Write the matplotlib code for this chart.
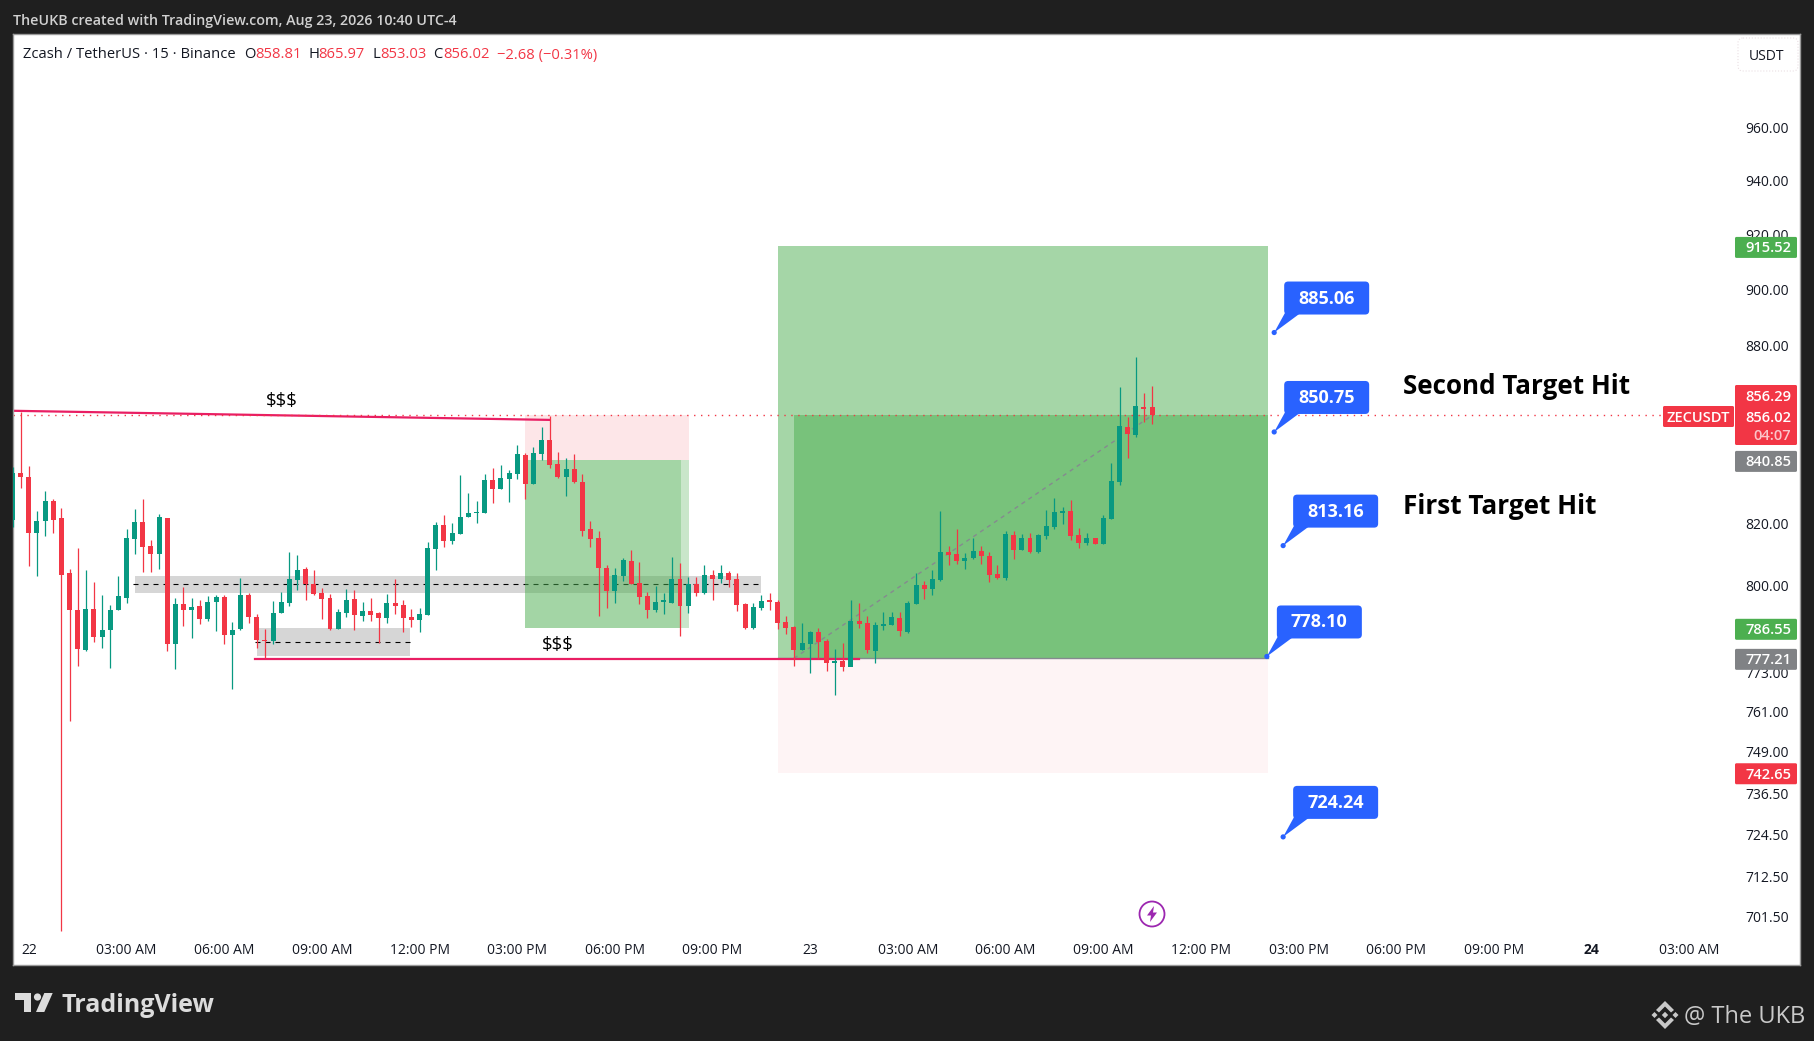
import matplotlib
matplotlib.use("Agg")
import matplotlib.pyplot as plt
from matplotlib.patches import Rectangle, FancyBboxPatch, Polygon, Circle
from matplotlib.ticker import NullLocator
from matplotlib.transforms import Affine2D

plt.rcParams['font.family'] = ['Open Sans', 'DejaVu Sans']

# 15 min candles
opens = [821.2, 836.6, 835.3, 817.0, 820.7, 827.4, 821.8, 804.0, 792.4, 779.9,
         792.7, 783.7, 785.9, 792.2, 796.1, 815.1, 820.6, 812.7, 810.2, 821.8,
         781.8, 794.2, 792.2, 793.6, 789.6, 794.7, 796.5, 784.4, 786.2, 797.1,
         790.2, 783.0, 782.5, 791.5, 794.6, 801.9, 805.3, 800.6, 797.7, 796.1,
         786.4, 791.5, 795.8, 790.5, 792.1, 791.5, 789.8, 794.6, 793.9, 790.2,
         789.2, 790.8, 811.8, 819.5, 814.4, 816.6, 822.2, 823.4, 823.4, 834.4,
         831.4, 834.7, 836.4, 842.6, 833.1, 843.0, 847.7, 839.7, 835.4, 838.0,
         833.7, 818.2, 815.3, 805.6, 798.4, 803.1, 807.9, 800.9, 796.8, 792.4,
         794.9, 794.6, 802.2, 793.6, 800.6, 797.7, 803.4, 802.2, 804.1, 802.2,
         794.2, 786.7, 793.0, 795.2, 794.9, 788.6, 787.0, 779.8, 781.6, 785.5,
         782.7, 775.8, 776.4, 774.6, 788.9, 788.3, 779.5, 787.4, 787.7, 789.8,
         785.5, 794.2, 800.3, 799.0, 801.9, 810.8, 810.1, 807.9, 808.8, 811.1,
         809.5, 803.7, 802.5, 816.3, 811.4, 815.3, 810.8, 816.0, 818.9, 823.4,
         824.1, 816.3, 813.7, 815.3, 813.4, 821.5, 833.7, 852.1, 849.4, 858.9,
         858.81]
highs = [838.8, 857.3, 839.0, 824.1, 830.7, 828.0, 825.0, 805.3, 812.1, 805.0,
         801.3, 797.1, 794.0, 803.1, 818.2, 824.7, 828.0, 814.7, 823.1, 821.8,
         796.1, 799.6, 796.1, 795.5, 796.8, 797.1, 797.1, 788.6, 802.5, 797.7,
         791.1, 786.4, 795.2, 798.1, 810.8, 809.8, 806.0, 805.0, 799.3, 797.4,
         792.7, 799.0, 798.7, 794.9, 796.1, 791.8, 797.4, 802.2, 795.5, 792.7,
         793.0, 814.0, 820.6, 822.8, 820.2, 836.0, 830.0, 827.4, 836.4, 838.4,
         839.3, 837.7, 846.0, 843.3, 845.3, 852.1, 855.9, 843.6, 841.7, 843.0,
         836.4, 820.9, 817.6, 806.6, 805.6, 808.8, 811.4, 807.6, 798.1, 800.0,
         797.7, 809.2, 807.2, 802.8, 802.8, 806.6, 805.0, 806.6, 804.7, 804.0,
         794.6, 794.6, 797.1, 797.7, 795.5, 790.5, 787.4, 788.3, 785.6, 786.7,
         783.3, 780.1, 782.0, 795.5, 794.6, 790.5, 788.6, 791.8, 791.8, 791.8,
         795.2, 804.0, 801.6, 805.0, 824.1, 812.7, 818.2, 810.4, 815.3, 812.7,
         810.8, 806.6, 817.6, 817.6, 816.6, 817.0, 816.6, 824.4, 828.4, 825.4,
         827.7, 818.6, 817.0, 815.3, 822.8, 840.0, 865.7, 855.5, 876.3, 863.7,
         865.97]
lows = [819.0, 831.8, 806.3, 803.2, 815.8, 817.0, 697.5, 758.2, 775.0, 779.6,
        782.2, 780.5, 774.1, 792.2, 794.4, 810.2, 804.5, 804.5, 805.4, 779.6,
        773.8, 787.4, 783.4, 787.8, 788.7, 785.6, 781.8, 767.7, 785.9, 788.1,
        780.5, 777.4, 781.8, 791.2, 793.6, 798.7, 795.5, 797.1, 789.5, 785.9,
        786.4, 790.0, 785.9, 788.7, 788.7, 782.0, 788.1, 791.1, 785.3, 786.9,
        785.3, 790.8, 805.0, 812.5, 813.4, 816.6, 822.2, 820.2, 823.4, 826.7,
        831.4, 827.0, 834.7, 828.0, 833.1, 841.0, 838.4, 835.0, 829.0, 833.4,
        816.0, 812.4, 790.5, 793.0, 794.6, 801.6, 800.6, 794.2, 789.8, 791.8,
        791.1, 794.6, 784.0, 791.5, 796.8, 797.4, 795.5, 801.0, 799.6, 792.1,
        786.4, 786.4, 792.4, 792.4, 786.4, 784.9, 774.8, 779.8, 772.8, 777.0,
        773.4, 766.0, 773.4, 775.2, 786.7, 778.9, 775.8, 786.1, 787.7, 784.0,
        785.1, 794.2, 795.8, 797.1, 801.6, 806.6, 806.9, 805.3, 808.5, 806.9,
        801.3, 802.2, 801.9, 808.5, 811.4, 810.4, 810.4, 815.0, 818.2, 819.9,
        814.7, 812.1, 813.1, 813.4, 813.4, 821.5, 832.7, 841.7, 848.8, 853.8,
        853.03]
closes = [836.6, 835.2, 817.0, 820.9, 827.4, 821.3, 803.3, 792.2, 780.2, 792.7,
          783.7, 786.1, 792.4, 796.8, 815.3, 820.6, 812.5, 810.2, 822.2, 781.8,
          794.2, 792.2, 793.3, 789.6, 794.9, 796.5, 784.4, 786.1, 797.1, 790.0,
          782.8, 782.5, 791.5, 794.9, 802.2, 805.0, 800.4, 797.4, 795.8, 786.4,
          791.8, 795.5, 790.6, 792.1, 790.8, 789.8, 794.6, 793.6, 789.8, 789.2,
          791.1, 812.1, 819.5, 814.4, 817.0, 822.2, 823.4, 823.8, 834.4, 831.4,
          835.0, 836.7, 843.0, 833.1, 843.3, 847.7, 839.3, 835.4, 838.0, 833.7,
          817.6, 815.0, 805.6, 798.4, 803.4, 808.2, 800.6, 796.5, 792.4, 794.9,
          795.2, 802.2, 793.6, 800.6, 797.7, 803.4, 802.2, 804.1, 801.9, 794.0,
          786.7, 793.3, 795.2, 794.9, 788.3, 786.7, 779.8, 782.1, 785.5, 782.4,
          775.8, 776.4, 774.6, 788.9, 788.0, 779.8, 787.7, 788.0, 790.2, 785.8,
          794.6, 800.3, 799.0, 802.2, 810.8, 809.8, 807.9, 808.8, 811.1, 809.5,
          803.4, 802.5, 816.6, 811.4, 815.3, 810.8, 816.3, 819.2, 823.8, 824.1,
          816.0, 813.7, 815.3, 813.4, 821.8, 834.1, 852.5, 849.7, 859.3, 858.2,
          856.02]

y_ticks = [960, 940, 920, 900, 880, 820, 800, 773, 761, 749, 736.5, 724.5, 712.5, 701.5]
x_ticks = [2, 14, 26, 38, 50, 62, 74, 86, 98, 110, 122, 134, 146, 158, 170, 182, 194, 206]
x_labels = ['22', '03:00 AM', '06:00 AM', '09:00 AM', '12:00 PM', '03:00 PM', '06:00 PM', '09:00 PM',
            '23', '03:00 AM', '06:00 AM', '09:00 AM', '12:00 PM', '03:00 PM', '06:00 PM', '09:00 PM',
            '24', '03:00 AM']

last_price = 856.02
long_top, long_entry, long_stop = 915.52, 777.21, 742.65
short_top, tp_top, tp_bottom = 856.02, 840.85, 786.55
zone1 = (803.1, 797.7)
zone2 = (786.7, 777.9)
callout_prices = [885.06, 850.75, 813.16, 778.10, 724.24]
callout_bars = [155, 155, 156.1, 154.1, 156.1]

GREEN = '#089981'
RED = '#f23645'
BG = '#1f1f1f'

fig = plt.figure(figsize=(18.14, 10.41), dpi=100, facecolor=BG)
ax = fig.add_axes([13 / 1814, 76 / 1041, 1787 / 1814, 931 / 1041])

# pixel coords from top left, for all the stuff around the chart
px = Affine2D().scale(1, -1).translate(0, 1041)

XLIM = (0.055, 219.6)
YLIM = (688.0, 996.2)

ax.set_yscale('log')
ax.set_ylim(*YLIM)
ax.set_xlim(*XLIM)
ax.yaxis.set_minor_locator(NullLocator())
ax.yaxis.tick_right()
ax.set_yticks(y_ticks)
ax.set_yticklabels(['%.2f' % t for t in y_ticks])
ax.set_xticks(x_ticks)
ax.set_xticklabels(x_labels)
ax.tick_params(axis='y', length=0, pad=-39.6, labelsize=10, labelcolor='#131722')
ax.tick_params(axis='x', length=0, pad=-16, labelsize=10, labelcolor='#131722')
ax.get_xticklabels()[16].set_fontweight('bold')
for s in ax.spines.values():
    s.set_color('#9a9a9a')
    s.set_linewidth(1)

# position tools
ax.add_patch(Rectangle((94, long_entry), 60.2, long_top - long_entry, fc='#4caf50', alpha=0.5, lw=0, zorder=1.2))
ax.add_patch(Rectangle((96, long_entry), 58.2, last_price - long_entry, fc='#4caf50', alpha=0.5, lw=0, zorder=1.3))
ax.add_patch(Rectangle((94, long_stop), 60.2, long_entry - long_stop, fc=RED, alpha=0.05, lw=0, zorder=1.2))
ax.plot([94, 154.2], [long_entry, long_entry], color='#858a8f', lw=1, zorder=1.6)
ax.plot([96, 140], [long_entry, last_price], color='#858a8f', lw=1, ls=(0, (3, 3)), zorder=1.6)

# grey zones
for (top, bottom), x0, x1 in [(zone1, 15, 92), (zone2, 30, 48.8)]:
    ax.add_patch(Rectangle((x0, bottom), x1 - x0, top - bottom, fc='#d6d6d6', lw=0, zorder=1))
    mid = (top * bottom) ** 0.5
    ax.plot([x0 - 0.2, x1 + 0.1], [mid, mid], color='black', lw=0.8, ls=(0, (4.5, 4.5)), zorder=1.1)

ax.add_patch(Rectangle((63, tp_top), 20.1, short_top - tp_top, fc=RED, alpha=0.12, lw=0, zorder=1.2))
ax.add_patch(Rectangle((63, tp_bottom), 20.1, tp_top - tp_bottom, fc='#4caf50', alpha=0.3, lw=0, zorder=1.2))
ax.add_patch(Rectangle((63, tp_bottom), 19.1, tp_top - tp_bottom, fc='#4caf50', alpha=0.3, lw=0, zorder=1.3))

# liquidity lines
ax.plot([0.055, 66], [857.6, 854.5], color='#e91e63', lw=1.6, zorder=1.7)
ax.plot([29.8, 104], [777.1, 777.1], color='#e91e63', lw=1.6, zorder=1.7)
ax.text(33.1, 861.0, '$$$', ha='center', va='center', fontsize=13.5, color='black')
ax.text(67, 781.4, '$$$', ha='center', va='center', fontsize=13.5, color='black')
ax.axhline(last_price, xmax=0.923, color=RED, lw=1, ls=(0, (1, 4)), zorder=2.5)

# candles
idx = list(range(len(opens)))
colors = [GREEN if c >= o else RED for o, c in zip(opens, closes)]
ax.vlines(idx, lows, highs, colors=colors, lw=0.9, zorder=3)
bot = [min(o, c) for o, c in zip(opens, closes)]
hgt = [max(abs(c - o), 0.4) for o, c in zip(opens, closes)]
ax.bar(idx, hgt, 0.61, bot, color=colors, lw=0, zorder=3.1)
ax.set_xlim(*XLIM)
ax.set_ylim(*YLIM)


def bar_x(b):
    return ax.transData.transform((b, 800))[0]


def price_y(p):
    return 1041 - ax.transData.transform((0, p))[1] + 1


def txt(x, y, s, **kw):
    kw.setdefault('va', 'center')
    kw.setdefault('fontsize', 10)
    fig.text(x, y + 2, s, transform=px, **kw)


def box(x0, y0, x1, y1, color, rad=1.5, **kw):
    fig.add_artist(FancyBboxPatch((x0 + rad, y0 + rad), x1 - x0 - 2 * rad, y1 - y0 - 2 * rad,
                                  boxstyle='round,pad=%g,rounding_size=%g' % (rad, rad),
                                  fc=color, lw=0, transform=px, **kw))


# blue callouts
for p, b in zip(callout_prices, callout_bars):
    dx, dy = bar_x(b), price_y(p)
    fig.add_artist(Polygon([(dx, dy), (dx + 11, dy - 20), (dx + 27, dy - 20)], fc='#2962ff', lw=0, transform=px))
    fig.add_artist(Circle((dx, dy), 2.6, fc='#2962ff', lw=0, transform=px))
    box(dx + 10, dy - 51, dx + 95, dy - 18, '#2962ff', rad=4)
    txt(dx + 52.5, dy - 36, '%.2f' % p, color='white', ha='center', fontsize=13, fontweight='bold')

txt(1403, 385, 'Second Target Hit', fontsize=18.7, fontweight='bold', color='black')
txt(1403, 504, 'First Target Hit', fontsize=18.8, fontweight='bold', color='black')

# price axis labels
for p, c in [(915.52, '#4caf50'), (840.85, '#808285'), (786.55, '#4caf50'), (777.21, '#808285'), (742.65, RED)]:
    y = price_y(p)
    box(1735, y - 10.5, 1797, y + 10.5, c)
    txt(1791, y - 1, '%.2f' % p, color='white', ha='right', fontweight='semibold', fontsize=10.5)
box(1735, 385, 1797, 445, RED)
txt(1791, 395, '856.29', color='white', ha='right', fontweight='semibold', fontsize=10.5)
txt(1791, 416, '856.02', color='white', ha='right', fontweight='semibold', fontsize=10.5)
txt(1791, 434, '04:07', color='#fbc5ca', ha='right', fontweight='semibold', fontsize=10.5)
box(1663, 406, 1734, 427, RED)
txt(1698.5, 415.5, 'ZECUSDT', color='white', ha='center', fontweight='semibold', fontsize=10.5)

# USDT button
fig.add_artist(FancyBboxPatch((1742, 42), 52, 25, boxstyle='round,pad=4,rounding_size=5', fc='white',
                              ec='#eadfe3', lw=0.8, ls=':', transform=px))
txt(1767, 54, 'USDT', ha='center', color='#131722')

# header
txt(13, 19, 'TheUKB created with TradingView.com, Aug 23, 2026 10:40 UTC-4', color='#d1d1d1', fontweight='semibold',
    fontsize=10.3)
txt(23, 53, 'Zcash / TetherUS · 15 · Binance', color='#131722', fontsize=10.6)
for x, s, c in [(244, 'O', '#131722'), (255, '858.81', RED), (309, 'H', '#131722'), (318, '865.97', RED),
                (373, 'L', '#131722'), (380, '853.03', RED), (433, 'C', '#131722'), (443, '856.02', RED),
                (497, '−2.68 (−0.31%)', RED)]:
    txt(x, 53, s, color=c, fontsize=10.6)

# lightning icon
fig.add_artist(Circle((1152, 914), 12.5, fc='white', ec='#9c27b0', lw=1.3, transform=px))
fig.add_artist(Polygon([(1154, 906), (1147, 915.5), (1151, 915.5), (1150, 922), (1157, 912.5), (1153, 912.5)],
                       fc='#9c27b0', lw=0, transform=px))

# tradingview logo
LOGO = '#dcdcdc'
fig.add_artist(Polygon([(15, 993), (31, 993), (31, 1012), (24, 1012), (24, 1000), (15, 1000)], fc=LOGO, lw=0, transform=px))
fig.add_artist(Circle((37.5, 997), 3.6, fc=LOGO, lw=0, transform=px))
fig.add_artist(Polygon([(44.3, 993), (52.7, 993), (44.3, 1012), (36, 1012)], fc=LOGO, lw=0, transform=px))
txt(61, 1003, 'TradingView', fontsize=18, fontweight='bold', color=LOGO)

# binance mark and watermark
W = '#c9c9c9'
for cx, cy, r in [(1665, 1015, 3.2), (1654.5, 1015, 3), (1675.5, 1015, 3)]:
    fig.add_artist(Polygon([(cx, cy - r), (cx + r, cy), (cx, cy + r), (cx - r, cy)], fc=W, lw=0, transform=px))
fig.add_artist(Polygon([(1665, 1001), (1674, 1010), (1671, 1012.5), (1665, 1006.5), (1659, 1012.5), (1656, 1010)], fc=W, lw=0, transform=px))
fig.add_artist(Polygon([(1665, 1029), (1674, 1020), (1671, 1017.5), (1665, 1023.5), (1659, 1017.5), (1656, 1020)], fc=W, lw=0, transform=px))
txt(1684, 1015, '@ The UKB', fontsize=17, color=W)

fig.savefig('out.png', dpi=100, facecolor=BG)
